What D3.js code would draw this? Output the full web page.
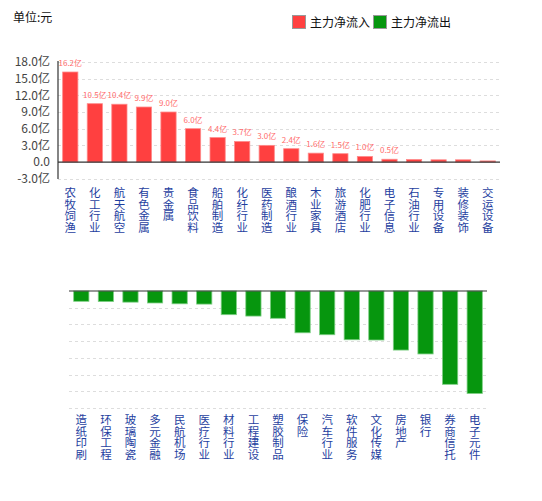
<!DOCTYPE html>
<html><head><meta charset="utf-8">
<script src="https://cdn.jsdelivr.net/npm/d3@7/dist/d3.min.js"></script>
<style>
body{margin:0;background:#fff;}
text{font-family:"Noto Sans CJK SC","Noto Sans",sans-serif;}
.vt{writing-mode:vertical-rl;text-orientation:upright;}
</style></head>
<body><svg id="c" width="542" height="501"></svg>
<script>
const inCats = ["农牧饲渔","化工行业","航天航空","有色金属","贵金属","食品饮料","船舶制造","化纤行业","医药制造","酿酒行业","木业家具","旅游酒店","化肥行业","电子信息","石油行业","专用设备","装修装饰","交运设备"];
const inVals = [16.2,10.5,10.4,9.9,9.0,6.0,4.4,3.7,3.0,2.4,1.6,1.5,1.0,0.5,0.45,0.4,0.4,0.2];
const inLabels = ["16.2亿","10.5亿","10.4亿","9.9亿","9.0亿","6.0亿","4.4亿","3.7亿","3.0亿","2.4亿","1.6亿","1.5亿","1.0亿","0.5亿",null,null,null,null];
const outCats = ["造纸印刷","环保工程","玻璃陶瓷","多元金融","民航机场","医疗行业","材料行业","工程建设","塑胶制品","保险","汽车行业","软件服务","文化传媒","房地产","银行","券商信托","电子元件"];
const outVals = [-1.85,-1.9,-2.0,-2.15,-2.3,-2.35,-4.25,-4.5,-4.9,-7.5,-7.85,-8.75,-8.8,-10.6,-11.3,-16.75,-18.4];
const topTicks = [-3,0,3,6,9,12,15,18];
const topTickLabels = ["-3.0亿","0.0","3.0亿","6.0亿","9.0亿","12.0亿","15.0亿","18.0亿"];
const bottomTicks = [-21,-18,-15,-12,-9,-6,-3,0];
const legendNames = ["主力净流入","主力净流出"];

const RED="#ff4040", GREEN="#06960e";
const svg = d3.select("#c");

svg.append("text").attr("x",13).attr("y",22).attr("font-size",12).attr("fill","#111").text("单位:元");

const lg = svg.append("g");
[[292,310,RED],[373,391,GREEN]].forEach((p,i)=>{
  lg.append("rect").attr("x",p[0]+0.5).attr("y",15.5).attr("width",13).attr("height",13).attr("fill",p[2]).attr("stroke","#999");
  lg.append("text").attr("x",p[1]).attr("y",26.5).attr("font-size",12).attr("fill","#111").text(legendNames[i]);
});

function vtext(g, x, yTop, str){
  g.append("text").attr("class","vt").attr("x",x).attr("y",yTop)
    .attr("font-size",11.5).attr("letter-spacing",0.1).attr("fill","#1f3f9f").text(str);
}

// top chart
const y1 = d3.scaleLinear().domain([-3,18]).range([178.7,62]);
const x1 = d3.scaleBand().domain(inCats).range([58,500]).paddingInner(0.38).paddingOuter(0.19);
const g1 = svg.append("g");
topTicks.forEach(t=>{
  if(t!==0) g1.append("line").attr("x1",58).attr("x2",500).attr("y1",Math.round(y1(t))+0.5).attr("y2",Math.round(y1(t))+0.5)
    .attr("stroke","#ddd").attr("stroke-dasharray","3,3");
});
const yAxis = d3.axisLeft(y1).tickValues(topTicks).tickFormat((d,i)=>topTickLabels[i]).tickSize(0).tickPadding(8);
const ya = g1.append("g").attr("transform","translate(58,0)").call(yAxis);
ya.select(".domain").remove();
ya.selectAll("text").attr("font-size",12).attr("fill","#444").attr("font-family",'"Noto Sans CJK SC",sans-serif');
g1.selectAll("rect.b").data(inVals).join("rect").attr("class","b")
  .attr("x",(d,i)=>x1(inCats[i])).attr("width",x1.bandwidth())
  .attr("y",d=>y1(d)).attr("height",d=>y1(0)-y1(d))
  .attr("fill",RED).attr("stroke","#ff8a8a").attr("stroke-width",0.8);
g1.selectAll("text.v").data(inVals).join("text").attr("class","v")
  .attr("x",(d,i)=>x1(inCats[i])+x1.bandwidth()/2).attr("y",d=>y1(d)-6)
  .attr("text-anchor","middle").attr("font-size",8).attr("fill","#ff6b6b")
  .text((d,i)=>inLabels[i]||"");
g1.append("line").attr("x1",58).attr("x2",500).attr("y1",y1(0)).attr("y2",y1(0)).attr("stroke","#333").attr("stroke-width",1.2);
g1.append("line").attr("x1",58).attr("x2",58).attr("y1",61).attr("y2",179).attr("stroke","#333").attr("stroke-width",1.2);
inCats.forEach(c=>vtext(g1, x1(c)+x1.bandwidth()/2, 187, c));

// bottom chart
const y2 = d3.scaleLinear().domain([-21,0]).range([408,291]);
const x2 = d3.scaleBand().domain(outCats).range([69,487]).paddingInner(0.38).paddingOuter(0.19);
const g2 = svg.append("g");
bottomTicks.forEach(t=>{
  if(t!==0) g2.append("line").attr("x1",69).attr("x2",487).attr("y1",Math.round(y2(t))+0.5).attr("y2",Math.round(y2(t))+0.5)
    .attr("stroke","#ddd").attr("stroke-dasharray","3,3");
});
g2.selectAll("rect.b").data(outVals).join("rect").attr("class","b")
  .attr("x",(d,i)=>x2(outCats[i])).attr("width",x2.bandwidth())
  .attr("y",y2(0)).attr("height",d=>y2(d)-y2(0))
  .attr("fill",GREEN).attr("stroke","#7fcf85").attr("stroke-width",0.8);
g2.append("line").attr("x1",69).attr("x2",487).attr("y1",y2(0)).attr("y2",y2(0)).attr("stroke","#333").attr("stroke-width",1.2);
outCats.forEach(c=>vtext(g2, x2(c)+x2.bandwidth()/2, 414, c));
</script></body></html>
